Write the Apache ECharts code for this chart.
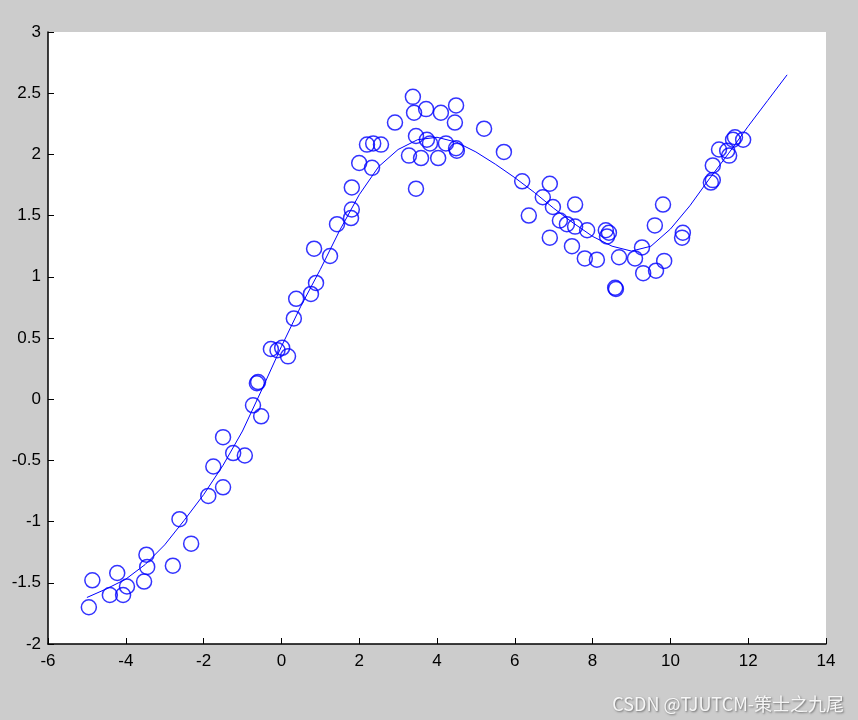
<!DOCTYPE html>
<html>
<head>
<meta charset="utf-8">
<script src="https://cdn.jsdelivr.net/npm/echarts@6/dist/echarts.min.js"></script>
<style>
html,body{margin:0;padding:0;background:#cccccc;}
#chart{width:858px;height:720px;}
</style>
</head>
<body>
<div id="chart"></div>
<script>
var xTicks = [-6,-4,-2,0,2,4,6,8,10,12,14];
var yTicks = [-2,-1.5,-1,-0.5,0,0.5,1,1.5,2,2.5,3];

var scatterX = [-4.95,-4.86,-4.41,-4.22,-4.07,-3.97,-3.53,-3.45,-3.47,-2.79,-2.32,-2.62,-1.88,-1.50,-1.75,-1.24,-0.94,-1.50,-0.73,-0.52,-0.63,-0.60,-0.27,-0.10,0.02,0.17,0.32,0.38,0.76,0.89,0.84,1.25,1.43,1.79,1.81,1.81,2.00,2.33,2.20,2.36,2.56,2.92,3.38,3.41,3.72,4.10,4.49,4.46,5.21,3.46,3.74,3.82,4.23,4.49,4.51,3.28,3.59,4.03,5.72,3.46,6.19,6.90,6.72,6.98,6.36,7.55,7.16,7.34,7.55,7.86,6.90,7.47,7.80,8.11,8.34,8.37,8.42,8.58,8.60,8.68,9.09,9.27,9.30,9.63,9.84,9.60,9.81,10.32,10.30,11.04,11.09,11.09,11.25,11.51,11.61,11.66,11.87,11.46];
var scatterY = [-1.70,-1.48,-1.60,-1.42,-1.60,-1.53,-1.49,-1.37,-1.27,-1.36,-1.18,-0.98,-0.79,-0.72,-0.55,-0.44,-0.46,-0.31,-0.05,-0.14,0.13,0.14,0.41,0.40,0.42,0.35,0.66,0.82,0.86,0.95,1.23,1.17,1.43,1.48,1.55,1.73,1.93,1.89,2.08,2.09,2.08,2.26,2.47,2.34,2.37,2.34,2.40,2.26,2.21,2.15,2.12,2.09,2.09,2.05,2.03,1.99,1.97,1.97,2.02,1.72,1.78,1.76,1.65,1.57,1.50,1.59,1.46,1.43,1.41,1.38,1.32,1.25,1.15,1.14,1.38,1.33,1.36,0.91,0.90,1.16,1.15,1.24,1.03,1.05,1.13,1.42,1.59,1.36,1.32,1.77,1.79,1.91,2.04,1.99,2.12,2.14,2.12,2.03];

var fitX = [-5,-4.5,-4,-3.5,-3,-2.5,-2,-1.5,-1,-0.5,0,0.5,1,1.5,2,2.5,3,3.5,4,4.5,5,5.5,6,6.5,7,7.5,8,8.5,9,9.5,10,10.5,11,11.5,12,12.5,13];
var fitY = [-1.62,-1.55,-1.47,-1.35,-1.19,-0.99,-0.78,-0.54,-0.26,0.08,0.43,0.76,1.06,1.38,1.67,1.90,2.04,2.12,2.14,2.10,2.02,1.92,1.81,1.69,1.56,1.44,1.33,1.25,1.21,1.25,1.39,1.58,1.80,2.01,2.23,2.44,2.65];

var scatterData = scatterX.map(function(x,i){return [x, scatterY[i]];});
var fitData = fitX.map(function(x,i){return [x, fitY[i]];});

var chart = echarts.init(document.getElementById('chart'), null, {renderer:'canvas'});
var labelStyle = {color:'#000', fontFamily:'Liberation Sans, Arial, sans-serif', fontSize:17};
chart.setOption({
  backgroundColor:'#cccccc',
  animation:false,
  grid:{left:48, top:32, right:32, bottom:76, show:true, backgroundColor:'#ffffff', borderWidth:0, containLabel:false},
  xAxis:{
    type:'value', min:xTicks[0], max:xTicks[xTicks.length-1], interval:2,
    axisLine:{show:true, onZero:false, lineStyle:{color:'#000', width:1.5}},
    axisTick:{show:true, inside:true, length:6, lineStyle:{color:'#000'}},
    splitLine:{show:false},
    axisLabel:Object.assign({margin:9}, labelStyle)
  },
  yAxis:{
    type:'value', min:yTicks[0], max:yTicks[yTicks.length-1], interval:0.5,
    axisLine:{show:true, onZero:false, lineStyle:{color:'#000', width:1.5}},
    axisTick:{show:true, inside:true, length:6, lineStyle:{color:'#000'}},
    splitLine:{show:false},
    axisLabel:Object.assign({margin:7}, labelStyle)
  },
  series:[
    {type:'line', data:fitData, smooth:false, showSymbol:false, symbol:'none',
     lineStyle:{color:'#0000ff', width:1}, z:2},
    {type:'scatter', data:scatterData, symbol:'circle', symbolSize:15,
     itemStyle:{color:'rgba(0,0,0,0)', borderColor:'#0000ff', borderWidth:1.5}, z:3}
  ],
  graphic:[
    {type:'text', right:14, bottom:7,
     style:{text:'CSDN @TJUTCM-策士之九尾', fill:'#f6f6f6', font:'18px "Noto Sans CJK SC", "Liberation Sans", sans-serif',
            textShadowColor:'rgba(70,70,70,0.7)', textShadowBlur:2, textShadowOffsetX:1, textShadowOffsetY:1}}
  ]
});
</script>
</body>
</html>
